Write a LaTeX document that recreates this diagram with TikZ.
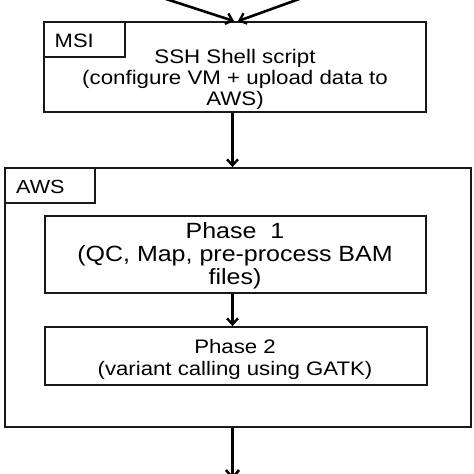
\documentclass[tikz,border=0pt]{standalone}
\usepackage{fontspec}
\setmainfont{Liberation Sans}
\usetikzlibrary{arrows.meta}
\newcommand{\boxtext}[3]{\scalebox{1}[0.88]{\fontsize{#1}{#2}\selectfont\begin{tabular}{@{}c@{}}#3\end{tabular}}}
\tikzset{
  frame/.style={draw=black!90, line width=1.8pt, inner sep=0pt, minimum width=#1},
  lbl/.style={inner sep=0pt},
  arr/.style={draw=black, line width=2.6pt, -{Straight Barb[length=6pt,width=11pt,line width=2.4pt]}}
}
\begin{document}
\begin{tikzpicture}[x=1pt,y=-1pt]
\useasboundingbox (0,0) rectangle (474,474);
% boxes
\node[frame=382pt, minimum height=90pt] (msi) at (235,67) {};
\node[frame=81pt, minimum height=35pt] (msilbl) at (84.5,39.5) {};
\node[frame=466pt, minimum height=259pt] (aws) at (238,297.5) {};
\node[frame=90pt, minimum height=35pt] (awslbl) at (50,185.5) {};
\node[frame=381pt, minimum height=77pt] (p1) at (235.5,254.5) {};
\node[frame=382pt, minimum height=58pt] (p2) at (236,356) {};
% texts
\node[lbl, anchor=west] (msit) at (54.5,42.8) {\boxtext{22}{24.2}{MSI}};
\node[lbl, anchor=west] (awst) at (16,189) {\boxtext{21.6}{24.2}{AWS}};
\node[lbl] (msitext) at (235,80.4) {\boxtext{22.3}{24.2}{SSH Shell script\\(configure VM + upload data to\\AWS)}};
\node[lbl] (p1text) at (235,256.8) {\boxtext{25}{26.7}{Phase\ \ 1\\(QC, Map, pre-process BAM\\files)}};
\node[lbl] (p2text) at (235,359.9) {\boxtext{22.2}{26.1}{Phase 2\\(variant calling using GATK)}};
% connectors
\coordinate (inL) at (163,-2);
\coordinate (inR) at (302,-2);
\coordinate (out) at (232.5,480);
\draw[arr] (inL) -- ([xshift=-1pt]msi.north);
\draw[arr] (inR) -- ([xshift=3pt]msi.north);
\draw[arr] ([xshift=-2.5pt]msi.south) -- ([xshift=-5.5pt]aws.north);
\draw[arr] ([xshift=-3pt]p1.south) -- ([xshift=-3.5pt]p2.north);
\draw[line width=2.6pt] ([xshift=-5.5pt]aws.south) -- (out);
\draw[line width=2.6pt] (226,470) -- (232.5,478) -- (239,470);
\end{tikzpicture}
\end{document}
